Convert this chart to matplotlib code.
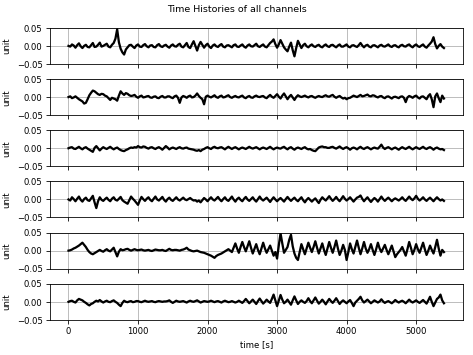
import numpy as np
import matplotlib
matplotlib.use("Agg")
import matplotlib.pyplot as plt

# time axis, one sample every 25 s
time = np.arange(0, 5401, 25)

# channel values in units of 1e-3 (rows of 500 s)
ch1 = [0, -2, 4, 1, -5, 2, 7, -1, -6, 0, 3, -3, -4, 2, 8, -3, -2, 3, 9, -2,
       0, 3, 6, -2, -4, 3, 8, 20, 46, 10, -8, -18, -24, -10, -4, 2, 3, -2, -6, 1,
       4, -2, -3, 2, 5, -1, -4, 1, 2, -3, -4, 2, 5, -1, -3, 1, 3, -2, -5, 1,
       4, -1, -2, 3, 6, -2, -4, 2, 8, -3, -6, 4, 13, 0, -13, 2, 11, 3, -5, 2,
       6, -2, -6, 1, 4, -1, -3, 2, 5, -2, -4, 1, 2, -1, -4, 2, 4, -2, -3, 1,
       4, -2, -5, 1, 4, -1, -2, 2, 6, -1, -3, 1, 4, -2, -4, 2, 8, 12, 18, 5,
       -5, 4, 16, 6, -4, -10, -15, -2, 9, -12, -29, -6, 14, 4, -6, 2, 6, -1, -4, 1,
       4, -1, -3, 1, 3, -2, -4, 1, 4, -1, -3, 2, 3, -1, -4, 1, 4, -2, -2, 1,
       4, -2, -4, 1, 2, -1, -3, 2, 8, 1, -4, 1, 3, -2, -4, 1, 2, -1, -4, 1,
       3, -1, -2, 1, 4, -1, -3, 1, 2, -2, -4, 1, 3, -1, -2, 2, 4, -1, -4, 1,
       4, -1, -3, 1, 4, -2, -5, 1, 6, 12, 24, 5, -7, 0, 5, -2, -6]
ch2 = [0, 2, -3, -1, 2, -2, -6, -9, -12, -18, -16, -6, 5, 12, 18, 16, 12, 8, 6, 9,
       8, 4, 2, -3, -8, -2, -4, -6, -10, 4, 16, 10, 6, 11, 9, 5, 3, 4, 6, 1,
       -2, 2, 4, -1, 0, 2, 3, -1, -2, 1, 2, -2, -3, 1, 3, -1, -1, 2, 2, -1,
       -3, 2, 4, -2, -16, -1, 3, 1, -2, 2, 4, -1, 0, 4, 10, 3, -2, -6, -20, 1,
       4, 1, -1, 2, 5, 0, -2, 2, 4, -1, 0, 3, 5, 0, -2, 1, 3, 0, -1, 2,
       4, -1, -3, 1, 3, -1, -2, 2, 4, 1, 0, 2, 3, -1, -3, 2, 6, 1, -2, 3,
       8, 1, -4, 4, 10, 2, -6, 1, 6, -1, -8, 0, 5, 2, 0, 2, 4, 1, -1, 2,
       3, 0, -2, 1, 3, 1, 0, 3, 5, 2, 1, 4, 6, 1, -2, 1, 3, -1, -4, -2,
       -6, -3, -2, 1, 4, 2, 0, 3, 6, 2, 3, 5, 7, 3, 2, 5, 4, 1, -1, 2,
       3, -1, -3, 1, 2, -1, -4, 0, 1, -1, -3, 1, 2, -2, -14, -1, 3, 1, -2, 2,
       4, -1, -4, 1, 2, -2, -6, 3, 8, -6, -28, 2, 10, -3, -14, 4, -4]
ch3 = [0, 2, 3, -1, -2, 1, 4, 0, -3, 1, 3, -1, -4, -7, -10, 1, 6, 0, -6, -1,
       3, 0, -2, 1, 4, 0, -3, 0, 2, -2, -5, -7, -8, -5, -3, 0, 2, 1, 3, 2,
       6, 3, 2, 5, 4, 1, -1, 2, 3, 0, -2, 1, 3, 0, -4, 1, 6, 2, -3, 0,
       2, 0, -2, 1, 3, 0, -1, 1, 2, -1, -2, -3, -4, -6, -7, -5, -8, -4, -2, 1,
       3, 0, -2, 2, 4, 1, 0, 2, 3, 0, -3, 1, 4, 1, -2, 1, 3, 0, -3, 0,
       2, 0, -2, 1, 4, 1, -1, 1, 3, 0, -3, 0, 2, 0, -2, 1, 4, 0, -3, 0,
       2, 0, -1, 2, 4, 0, -3, 1, 3, -1, -4, 0, 2, 0, -2, 1, 3, -1, -3, -2,
       -5, -7, -8, -3, 2, 4, 5, 3, 3, 1, 1, 3, 4, 1, -1, 2, 5, 1, -2, 1,
       3, 0, -4, 0, 2, 0, -3, 1, 4, 0, -2, 1, 3, 0, -3, 0, 2, 0, -1, 4,
       10, 2, -2, 1, 3, 0, -3, 0, 2, -1, -4, 0, 3, 0, -2, 1, 4, 0, -3, 0,
       3, 0, -2, 1, 4, 0, -2, 1, 3, 0, -4, 0, 2, -1, -3, -2, -5]
ch4 = [0, -3, 6, 1, -5, 2, 8, -1, -6, 1, 5, -2, -4, 3, 10, -8, -24, -5, 6, -1,
       -4, 1, 5, -1, -5, 2, 6, -1, -3, 2, 7, -2, -6, -9, -12, -2, 8, 2, -3, -9,
       -15, -3, 7, 1, -4, 2, 6, -1, -5, 2, 8, 0, -3, 2, 7, -1, -6, 1, 5, -1,
       -4, 1, 6, 0, -3, 1, 5, 0, -2, 1, 4, 0, -3, -2, -6, -3, -8, -2, 4, 0,
       -5, 1, 6, 0, -3, 2, 7, 0, -5, 1, 6, -1, -4, 2, 8, 0, -6, 1, 5, -1,
       -5, 2, 7, 0, -4, 1, 6, -1, -6, 1, 8, 1, -3, 1, 5, -1, -7, 0, 6, 0,
       -5, 0, 4, -1, -6, 1, 7, 1, -4, 1, 5, -1, -5, 1, 6, -2, -8, -1, 4, -1,
       -6, -1, 3, -4, -10, -1, 6, 1, -3, 3, 9, 2, -4, 1, 7, 0, -5, 2, 9, 2,
       -3, 1, 6, 0, -6, 0, 5, 7, 11, 2, -5, 1, 6, -1, -7, -1, 4, 0, -6, 1,
       8, 1, -4, 1, 5, 0, -5, 0, 3, 0, -3, 1, 6, 0, -4, 2, 8, 2, -2, 3,
       10, 2, -3, 1, 6, 0, -4, 1, 5, 0, -5, 1, 6, 1, -3, 0, -4]
ch5 = [0, 1, 3, 6, 8, 11, 14, 18, 22, 16, 10, 2, -4, -8, -10, -7, -4, -1, 2, -1,
       -3, 1, 4, 0, -2, 3, 8, -4, -16, -3, 4, 1, 2, 4, 5, 2, 0, 2, 4, 2,
       1, 2, 3, 1, 0, 1, 2, 0, -1, 1, 3, 2, 1, 1, 2, 0, -1, 2, 5, 2,
       1, 2, 2, 1, 0, 2, 3, 5, 8, 3, 1, -1, -2, -1, 0, -2, -4, -5, -6, -8,
       -10, -12, -14, -17, -20, -15, -12, -10, -8, -5, -2, 1, 4, 0, -4, 8, 20, 6, -6, 10,
       24, 10, -2, 12, 26, 8, -8, 5, 18, 2, -10, 6, 22, 6, -6, 4, 14, 0, -14, -4,
       -22, 15, 48, 20, -6, 2, 10, 30, 44, 12, -8, -20, -26, -4, 18, 4, -10, 6, 22, 8,
       -4, 10, 26, 8, -8, 6, 20, 2, -12, 6, 24, 8, -6, 10, 28, 6, -12, 0, 16, 2,
       -26, -4, 20, 4, -8, 10, 28, 8, -10, 6, 24, 6, -6, 4, 18, 2, -12, 4, 22, 6,
       -4, 6, 16, 2, -10, 2, 14, -2, -18, -10, -4, 2, 10, -2, -14, 4, 24, 8, -10, 2,
       18, 4, -6, 8, 22, 4, -12, 0, 14, 2, -8, 10, 30, 6, -14, 2, -4]
ch6 = [0, 2, 3, 0, -2, 4, 8, 6, 4, 0, -3, -7, -10, -6, -4, 0, 3, 1, 5, 1,
       -2, 1, 3, 0, -1, 2, 4, 0, -3, -8, -12, -3, 3, 0, -1, 1, 2, -1, 0, 2,
       2, 0, -1, 1, 3, 1, 0, 1, 2, 0, -1, 1, 2, 1, 0, 1, 1, 2, 4, 0,
       -3, 0, 3, 1, 0, 1, 2, 0, -2, 1, 3, 1, 0, 2, 4, 1, -2, 0, 2, 1,
       0, 1, 3, 1, -1, 1, 2, 0, -2, 1, 3, 1, -1, 0, 2, 0, -2, 0, 3, 0,
       -3, 2, 8, 2, -4, 1, 6, 0, -6, 2, 9, 2, -5, 0, 6, 1, -3, 8, 20, 4,
       -12, 4, 19, 6, -4, 0, 6, -1, -8, 4, 15, 4, -6, 0, 4, 0, -3, 2, 10, 2,
       -4, 4, 12, 3, -5, 0, 6, 0, -7, 1, 8, 2, -3, 3, 10, 2, -6, 0, 4, 0,
       -4, 1, 5, -3, -12, -2, 3, 8, 14, 4, -2, 2, 6, 1, -4, 0, 4, 1, -2, 1,
       7, 1, -3, 0, 2, -1, -4, 0, 5, 1, -2, 1, 3, 0, -4, 1, 6, 1, -2, 1,
       4, 0, -3, 1, 5, 0, -5, 4, 14, 0, -12, -2, 8, 12, 20, 4, -4]

channels = [ch1, ch2, ch3, ch4, ch5, ch6]

plt.rcParams["font.size"] = 8.3

fig, axes = plt.subplots(len(channels), 1, sharex=True, figsize=(6.4, 4.8), dpi=74)
fig.suptitle("Time Histories of all channels", fontsize=9.2, y=0.985)

for ax, ch in zip(axes, channels):
    ax.plot(time, np.array(ch) / 1000.0, color="black", linewidth=2.2)
    ax.set_ylim(-0.05, 0.05)
    ax.set_yticks([-0.05, 0.0, 0.05])
    ax.set_ylabel("unit", labelpad=5)
    ax.grid(True)

axes[-1].set_xlabel("time [s]")
fig.subplots_adjust(left=0.105, right=0.977, top=0.921, bottom=0.099, hspace=0.42)
fig.savefig("out.png", dpi=74)
